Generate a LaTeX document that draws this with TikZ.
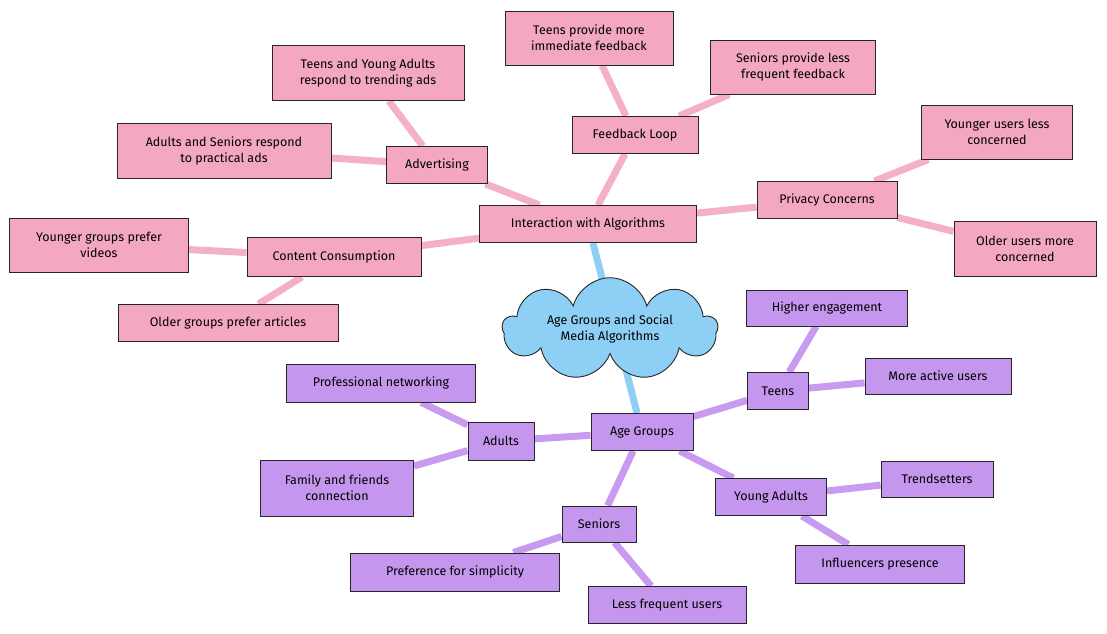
\documentclass[tikz,border=0pt]{standalone}
\usepackage{fontspec}
\setmainfont{Fira Sans}
\usetikzlibrary{shapes.symbols,backgrounds}
\definecolor{pk}{HTML}{F4A7C0}
\definecolor{pke}{HTML}{F4B0C8}
\definecolor{pu}{HTML}{C596EE}
\definecolor{pue}{HTML}{C99BF0}
\definecolor{bl}{HTML}{8ECFF5}
\begin{document}
\begin{tikzpicture}[x=1pt,y=-1pt,
 box/.style={draw=black!85,line width=0.9pt,font=\fontsize{12.5}{16}\selectfont,align=center,inner sep=0pt,minimum height=37pt},
 pbox/.style={box,fill=pk},
 ubox/.style={box,fill=pu},
 pe/.style={pke,line width=7pt},
 ue/.style={pue,line width=7pt}]
\useasboundingbox (0,0) rectangle (1107,633);
\node[cloud,cloud puffs=9,aspect=3,fill=bl,draw=black!85,line width=0.9pt,align=center,font=\fontsize{12.5}{16}\selectfont,minimum width=215pt,minimum height=72pt,inner sep=0pt] (c) at (610,329) {Age Groups and Social\\Media Algorithms};
\node[pbox,minimum width=217pt] (ia) at (588,224) {Interaction with Algorithms};
\node[ubox,minimum width=102pt] (ag) at (642,432) {Age Groups};
\node[pbox,minimum width=101pt] (adv) at (437,165) {Advertising};
\node[pbox,minimum width=192pt,minimum height=55pt] (adv1) at (368,73) {Teens and Young Adults\\respond to trending ads};
\node[pbox,minimum width=214pt,minimum height=55pt] (adv2) at (224,151) {Adults and Seniors respond\\to practical ads};
\node[pbox,minimum width=126pt] (fl) at (635,135) {Feedback Loop};
\node[pbox,minimum width=168pt,minimum height=54pt] (fl1) at (589,38) {Teens provide more\\immediate feedback};
\node[pbox,minimum width=165pt,minimum height=54pt] (fl2) at (793,67) {Seniors provide less\\frequent feedback};
\node[pbox,minimum width=140pt] (pc) at (827,200) {Privacy Concerns};
\node[pbox,minimum width=151pt,minimum height=54pt] (pc1) at (997,132) {Younger users less\\concerned};
\node[pbox,minimum width=142pt,minimum height=55pt] (pc2) at (1025,249) {Older users more\\concerned};
\node[pbox,minimum width=174pt,minimum height=39pt] (cc) at (334,257) {Content Consumption};
\node[pbox,minimum width=179pt,minimum height=54pt] (cc1) at (99,245) {Younger groups prefer\\videos};
\node[pbox,minimum width=220pt] (cc2) at (228,323) {Older groups prefer articles};
\node[ubox,minimum width=61pt] (te) at (778,391) {Teens};
\node[ubox,minimum width=161pt,minimum height=36pt] (te1) at (827,308) {Higher engagement};
\node[ubox,minimum width=146pt,minimum height=36pt] (te2) at (938,376) {More active users};
\node[ubox,minimum width=111pt] (ya) at (771,497) {Young Adults};
\node[ubox,minimum width=112pt,minimum height=36pt] (ya1) at (937,479) {Trendsetters};
\node[ubox,minimum width=169pt,minimum height=38pt] (ya2) at (880,564) {Influencers presence};
\node[ubox,minimum width=74pt,minimum height=36pt] (se) at (599,524) {Seniors};
\node[ubox,minimum width=209pt,minimum height=38pt] (se1) at (455,572) {Preference for simplicity};
\node[ubox,minimum width=158pt] (se2) at (667,605) {Less frequent users};
\node[ubox,minimum width=66pt,minimum height=38pt] (ad) at (501,441) {Adults};
\node[ubox,minimum width=189pt,minimum height=38pt] (ad1) at (381,383) {Professional networking};
\node[ubox,minimum width=153pt,minimum height=56pt] (ad2) at (337,488) {Family and friends\\connection};
\begin{scope}[on background layer]
\draw[bl,line width=7pt] (ia) -- (ag);
\draw[pe] (ia) -- (adv); \draw[pe] (adv) -- (adv1); \draw[pe] (adv) -- (adv2);
\draw[pe] (ia) -- (fl); \draw[pe] (fl) -- (fl1); \draw[pe] (fl) -- (fl2);
\draw[pe] (ia) -- (pc); \draw[pe] (pc) -- (pc1); \draw[pe] (pc) -- (pc2);
\draw[pe] (ia) -- (cc); \draw[pe] (cc) -- (cc1); \draw[pe] (cc) -- (cc2);
\draw[ue] (ag) -- (te); \draw[ue] (te) -- (te1); \draw[ue] (te) -- (te2);
\draw[ue] (ag) -- (ya); \draw[ue] (ya) -- (ya1); \draw[ue] (ya) -- (ya2);
\draw[ue] (ag) -- (se); \draw[ue] (se) -- (se1); \draw[ue] (se) -- (se2);
\draw[ue] (ag) -- (ad); \draw[ue] (ad) -- (ad1); \draw[ue] (ad) -- (ad2);
\end{scope}
\end{tikzpicture}
\end{document}
